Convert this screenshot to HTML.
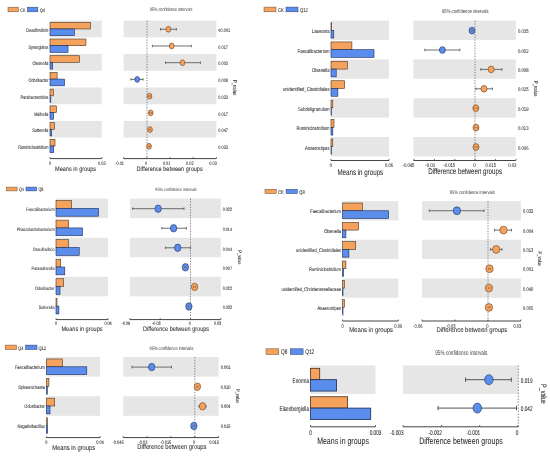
<!DOCTYPE html>
<html><head><meta charset="utf-8"><style>
html,body{margin:0;padding:0;background:#fff;}
svg{display:block;font-family:"Liberation Sans", sans-serif;filter:blur(0.3px);text-rendering:geometricPrecision;}
</style></head><body>
<svg width="550" height="458" viewBox="0 0 550 458">
<rect width="550" height="458" fill="#fff"/>
<rect x="8.00" y="7.20" width="10.30" height="4.60" fill="#F5A25D" stroke="#6b4a2a" stroke-width="0.5"/>
<text transform="translate(20.30 10.40) scale(1 1.3)" font-size="3.85" text-anchor="start" dominant-baseline="central" fill="#262626" stroke="#262626" stroke-width="0.040" >CK</text>
<rect x="27.50" y="7.20" width="10.30" height="4.60" fill="#5B8DEC" stroke="#2a3a6b" stroke-width="0.5"/>
<text transform="translate(39.80 10.40) scale(1 1.3)" font-size="3.85" text-anchor="start" dominant-baseline="central" fill="#262626" stroke="#262626" stroke-width="0.040" >Q4</text>
<rect x="50.00" y="20.60" width="51.80" height="16.72" fill="#E6E6E6"/>
<rect x="123.60" y="20.60" width="92.80" height="16.72" fill="#E6E6E6"/>
<rect x="50.00" y="22.27" width="40.40" height="6.69" fill="#F5A25D" stroke="#4a3420" stroke-width="0.6"/>
<rect x="50.00" y="28.96" width="24.40" height="6.69" fill="#5B8DEC" stroke="#1a2a5a" stroke-width="0.6"/>
<text transform="translate(48.50 30.66) scale(1 1.3)" font-size="3.85" text-anchor="end" dominant-baseline="central" fill="#262626" stroke="#262626" stroke-width="0.040" >Desulfovibrio</text>
<text transform="translate(218.30 30.66) scale(1 1.3)" font-size="3.85" text-anchor="start" dominant-baseline="central" fill="#262626" stroke="#262626" stroke-width="0.040" >&lt;0.001</text>
<rect x="50.00" y="38.99" width="35.90" height="6.69" fill="#F5A25D" stroke="#4a3420" stroke-width="0.6"/>
<rect x="50.00" y="45.68" width="18.00" height="6.69" fill="#5B8DEC" stroke="#1a2a5a" stroke-width="0.6"/>
<text transform="translate(48.50 47.38) scale(1 1.3)" font-size="3.85" text-anchor="end" dominant-baseline="central" fill="#262626" stroke="#262626" stroke-width="0.040" >Synergistes</text>
<text transform="translate(218.30 47.38) scale(1 1.3)" font-size="3.85" text-anchor="start" dominant-baseline="central" fill="#262626" stroke="#262626" stroke-width="0.040" >0.017</text>
<rect x="50.00" y="54.04" width="51.80" height="16.72" fill="#E6E6E6"/>
<rect x="123.60" y="54.04" width="92.80" height="16.72" fill="#E6E6E6"/>
<rect x="50.00" y="55.71" width="29.40" height="6.69" fill="#F5A25D" stroke="#4a3420" stroke-width="0.6"/>
<rect x="50.00" y="62.40" width="2.70" height="6.69" fill="#5B8DEC" stroke="#1a2a5a" stroke-width="0.6"/>
<text transform="translate(48.50 64.10) scale(1 1.3)" font-size="3.85" text-anchor="end" dominant-baseline="central" fill="#262626" stroke="#262626" stroke-width="0.040" >Olsenella</text>
<text transform="translate(218.30 64.10) scale(1 1.3)" font-size="3.85" text-anchor="start" dominant-baseline="central" fill="#262626" stroke="#262626" stroke-width="0.040" >0.003</text>
<rect x="50.00" y="72.43" width="7.10" height="6.69" fill="#F5A25D" stroke="#4a3420" stroke-width="0.6"/>
<rect x="50.00" y="79.12" width="14.50" height="6.69" fill="#5B8DEC" stroke="#1a2a5a" stroke-width="0.6"/>
<text transform="translate(48.50 80.82) scale(1 1.3)" font-size="3.85" text-anchor="end" dominant-baseline="central" fill="#262626" stroke="#262626" stroke-width="0.040" >Odoribacter</text>
<text transform="translate(218.30 80.82) scale(1 1.3)" font-size="3.85" text-anchor="start" dominant-baseline="central" fill="#262626" stroke="#262626" stroke-width="0.040" >0.008</text>
<rect x="50.00" y="87.48" width="51.80" height="16.72" fill="#E6E6E6"/>
<rect x="123.60" y="87.48" width="92.80" height="16.72" fill="#E6E6E6"/>
<rect x="50.00" y="89.15" width="3.30" height="6.69" fill="#F5A25D" stroke="#4a3420" stroke-width="0.6"/>
<rect x="50.00" y="95.84" width="0.80" height="6.69" fill="#5B8DEC" stroke="#1a2a5a" stroke-width="0.6"/>
<text transform="translate(48.50 97.54) scale(1 1.3)" font-size="3.85" text-anchor="end" dominant-baseline="central" fill="#262626" stroke="#262626" stroke-width="0.040" >Parabacteroides</text>
<text transform="translate(218.30 97.54) scale(1 1.3)" font-size="3.85" text-anchor="start" dominant-baseline="central" fill="#262626" stroke="#262626" stroke-width="0.040" >0.033</text>
<rect x="50.00" y="105.87" width="6.40" height="6.69" fill="#F5A25D" stroke="#4a3420" stroke-width="0.6"/>
<rect x="50.00" y="112.56" width="3.50" height="6.69" fill="#5B8DEC" stroke="#1a2a5a" stroke-width="0.6"/>
<text transform="translate(48.50 114.26) scale(1 1.3)" font-size="3.85" text-anchor="end" dominant-baseline="central" fill="#262626" stroke="#262626" stroke-width="0.040" >Malhella</text>
<text transform="translate(218.30 114.26) scale(1 1.3)" font-size="3.85" text-anchor="start" dominant-baseline="central" fill="#262626" stroke="#262626" stroke-width="0.040" >0.017</text>
<rect x="50.00" y="120.92" width="51.80" height="16.72" fill="#E6E6E6"/>
<rect x="123.60" y="120.92" width="92.80" height="16.72" fill="#E6E6E6"/>
<rect x="50.00" y="122.59" width="4.40" height="6.69" fill="#F5A25D" stroke="#4a3420" stroke-width="0.6"/>
<rect x="50.00" y="129.28" width="1.60" height="6.69" fill="#5B8DEC" stroke="#1a2a5a" stroke-width="0.6"/>
<text transform="translate(48.50 130.98) scale(1 1.3)" font-size="3.85" text-anchor="end" dominant-baseline="central" fill="#262626" stroke="#262626" stroke-width="0.040" >Sutterella</text>
<text transform="translate(218.30 130.98) scale(1 1.3)" font-size="3.85" text-anchor="start" dominant-baseline="central" fill="#262626" stroke="#262626" stroke-width="0.040" >0.047</text>
<rect x="50.00" y="139.31" width="5.00" height="6.69" fill="#F5A25D" stroke="#4a3420" stroke-width="0.6"/>
<rect x="50.00" y="146.00" width="3.70" height="6.69" fill="#5B8DEC" stroke="#1a2a5a" stroke-width="0.6"/>
<text transform="translate(48.50 147.70) scale(1 1.3)" font-size="3.85" text-anchor="end" dominant-baseline="central" fill="#262626" stroke="#262626" stroke-width="0.040" >Ruminiclostridium</text>
<text transform="translate(218.30 147.70) scale(1 1.3)" font-size="3.85" text-anchor="start" dominant-baseline="central" fill="#262626" stroke="#262626" stroke-width="0.040" >0.033</text>
<line x1="147.00" y1="20.60" x2="147.00" y2="158.60" stroke="#5a5a5a" stroke-width="0.7" stroke-dasharray="1.35 1.35"/>
<line x1="160.50" y1="29.26" x2="176.40" y2="29.26" stroke="#555555" stroke-width="0.85" />
<line x1="160.50" y1="28.06" x2="160.50" y2="30.46" stroke="#555555" stroke-width="0.85" />
<line x1="176.40" y1="28.06" x2="176.40" y2="30.46" stroke="#555555" stroke-width="0.85" />
<ellipse cx="168.40" cy="29.26" rx="2.40" ry="2.93" fill="#F5A25D" stroke="#6a4020" stroke-width="0.6"/>
<line x1="152.40" y1="45.98" x2="191.30" y2="45.98" stroke="#555555" stroke-width="0.85" />
<line x1="152.40" y1="44.78" x2="152.40" y2="47.18" stroke="#555555" stroke-width="0.85" />
<line x1="191.30" y1="44.78" x2="191.30" y2="47.18" stroke="#555555" stroke-width="0.85" />
<ellipse cx="171.70" cy="45.98" rx="2.40" ry="2.93" fill="#F5A25D" stroke="#6a4020" stroke-width="0.6"/>
<line x1="165.50" y1="62.70" x2="200.40" y2="62.70" stroke="#555555" stroke-width="0.85" />
<line x1="165.50" y1="61.50" x2="165.50" y2="63.90" stroke="#555555" stroke-width="0.85" />
<line x1="200.40" y1="61.50" x2="200.40" y2="63.90" stroke="#555555" stroke-width="0.85" />
<ellipse cx="182.50" cy="62.70" rx="2.40" ry="2.93" fill="#F5A25D" stroke="#6a4020" stroke-width="0.6"/>
<line x1="130.90" y1="79.42" x2="143.10" y2="79.42" stroke="#555555" stroke-width="0.85" />
<line x1="130.90" y1="78.22" x2="130.90" y2="80.62" stroke="#555555" stroke-width="0.85" />
<line x1="143.10" y1="78.22" x2="143.10" y2="80.62" stroke="#555555" stroke-width="0.85" />
<ellipse cx="137.20" cy="79.42" rx="2.40" ry="2.93" fill="#5B8DEC" stroke="#223060" stroke-width="0.6"/>
<ellipse cx="149.50" cy="96.14" rx="2.40" ry="2.93" fill="#F5A25D" stroke="#6a4020" stroke-width="0.6"/>
<line x1="148.50" y1="96.14" x2="150.50" y2="96.14" stroke="#8a6040" stroke-width="0.55" />
<line x1="148.50" y1="95.18" x2="148.50" y2="97.10" stroke="#8a6040" stroke-width="0.55" />
<line x1="150.50" y1="95.18" x2="150.50" y2="97.10" stroke="#8a6040" stroke-width="0.55" />
<ellipse cx="150.70" cy="112.86" rx="2.40" ry="2.93" fill="#F5A25D" stroke="#6a4020" stroke-width="0.6"/>
<line x1="149.50" y1="112.86" x2="152.00" y2="112.86" stroke="#8a6040" stroke-width="0.55" />
<line x1="149.50" y1="111.90" x2="149.50" y2="113.82" stroke="#8a6040" stroke-width="0.55" />
<line x1="152.00" y1="111.90" x2="152.00" y2="113.82" stroke="#8a6040" stroke-width="0.55" />
<ellipse cx="150.00" cy="129.58" rx="2.40" ry="2.93" fill="#F5A25D" stroke="#6a4020" stroke-width="0.6"/>
<line x1="149.00" y1="129.58" x2="151.00" y2="129.58" stroke="#8a6040" stroke-width="0.55" />
<line x1="149.00" y1="128.62" x2="149.00" y2="130.54" stroke="#8a6040" stroke-width="0.55" />
<line x1="151.00" y1="128.62" x2="151.00" y2="130.54" stroke="#8a6040" stroke-width="0.55" />
<ellipse cx="149.00" cy="146.30" rx="2.40" ry="2.93" fill="#F5A25D" stroke="#6a4020" stroke-width="0.6"/>
<line x1="148.00" y1="146.30" x2="150.00" y2="146.30" stroke="#8a6040" stroke-width="0.55" />
<line x1="148.00" y1="145.34" x2="148.00" y2="147.26" stroke="#8a6040" stroke-width="0.55" />
<line x1="150.00" y1="145.34" x2="150.00" y2="147.26" stroke="#8a6040" stroke-width="0.55" />
<line x1="50.00" y1="158.60" x2="101.80" y2="158.60" stroke="#444444" stroke-width="1" />
<line x1="50.00" y1="158.60" x2="50.00" y2="157.10" stroke="#444444" stroke-width="0.8" />
<line x1="101.80" y1="158.60" x2="101.80" y2="157.10" stroke="#444444" stroke-width="0.8" />
<text transform="translate(50.00 163.90) scale(1 1.3)" font-size="3.85" text-anchor="middle" dominant-baseline="central" fill="#262626" stroke="#262626" stroke-width="0.040" >0</text>
<text transform="translate(101.80 163.90) scale(1 1.3)" font-size="3.85" text-anchor="middle" dominant-baseline="central" fill="#262626" stroke="#262626" stroke-width="0.040" >0.03</text>
<line x1="123.60" y1="158.60" x2="216.40" y2="158.60" stroke="#444444" stroke-width="1" />
<line x1="123.60" y1="158.60" x2="123.60" y2="157.10" stroke="#444444" stroke-width="0.8" />
<text transform="translate(124.00 163.90) scale(1 1.3)" font-size="3.85" text-anchor="end" dominant-baseline="central" fill="#262626" stroke="#262626" stroke-width="0.040" >-0.01</text>
<line x1="146.80" y1="158.60" x2="146.80" y2="157.10" stroke="#444444" stroke-width="0.8" />
<text transform="translate(147.20 163.90) scale(1 1.3)" font-size="3.85" text-anchor="end" dominant-baseline="central" fill="#262626" stroke="#262626" stroke-width="0.040" >0</text>
<line x1="170.00" y1="158.60" x2="170.00" y2="157.10" stroke="#444444" stroke-width="0.8" />
<text transform="translate(170.40 163.90) scale(1 1.3)" font-size="3.85" text-anchor="end" dominant-baseline="central" fill="#262626" stroke="#262626" stroke-width="0.040" >0.01</text>
<line x1="193.20" y1="158.60" x2="193.20" y2="157.10" stroke="#444444" stroke-width="0.8" />
<text transform="translate(193.60 163.90) scale(1 1.3)" font-size="3.85" text-anchor="end" dominant-baseline="central" fill="#262626" stroke="#262626" stroke-width="0.040" >0.02</text>
<line x1="216.40" y1="158.60" x2="216.40" y2="157.10" stroke="#444444" stroke-width="0.8" />
<text transform="translate(216.80 163.90) scale(1 1.3)" font-size="3.85" text-anchor="end" dominant-baseline="central" fill="#262626" stroke="#262626" stroke-width="0.040" >0.03</text>
<text transform="translate(75.60 170.20) scale(1 1.19)" font-size="5.55" text-anchor="middle" dominant-baseline="central" fill="#2a2a2a" stroke="#2a2a2a" stroke-width="0.040" >Means in groups</text>
<text transform="translate(169.60 170.20) scale(1 1.19)" font-size="5.55" text-anchor="middle" dominant-baseline="central" fill="#2a2a2a" stroke="#2a2a2a" stroke-width="0.040" >Difference between groups</text>
<text transform="translate(171.00 10.10) scale(1 1.3)" font-size="3.85" text-anchor="middle" dominant-baseline="central" fill="#3a3a3a" >95% confidence intervals</text>
<text transform="translate(234.80 87.60) rotate(90) scale(1 1.3)" font-size="4.37" text-anchor="middle" dominant-baseline="central" fill="#262626" stroke="#262626" stroke-width="0.040" >P_value</text>
<rect x="264.00" y="7.10" width="12.00" height="4.70" fill="#F5A25D" stroke="#6b4a2a" stroke-width="0.5"/>
<text transform="translate(278.00 10.35) scale(1 1.3)" font-size="4.20" text-anchor="start" dominant-baseline="central" fill="#262626" stroke="#262626" stroke-width="0.040" >CK</text>
<rect x="286.00" y="7.10" width="12.00" height="4.70" fill="#5B8DEC" stroke="#2a3a6b" stroke-width="0.5"/>
<text transform="translate(300.00 10.35) scale(1 1.3)" font-size="4.20" text-anchor="start" dominant-baseline="central" fill="#262626" stroke="#262626" stroke-width="0.040" >Q12</text>
<rect x="331.00" y="20.60" width="58.00" height="19.40" fill="#E6E6E6"/>
<rect x="413.50" y="20.60" width="102.30" height="19.40" fill="#E6E6E6"/>
<rect x="331.00" y="22.54" width="0.70" height="7.76" fill="#F5A25D" stroke="#4a3420" stroke-width="0.6"/>
<rect x="331.00" y="30.30" width="2.80" height="7.76" fill="#5B8DEC" stroke="#1a2a5a" stroke-width="0.6"/>
<text transform="translate(329.50 31.30) scale(1 1.3)" font-size="4.20" text-anchor="end" dominant-baseline="central" fill="#262626" stroke="#262626" stroke-width="0.040" >Lawsonia</text>
<text transform="translate(518.00 31.30) scale(1 1.3)" font-size="4.20" text-anchor="start" dominant-baseline="central" fill="#262626" stroke="#262626" stroke-width="0.040" >0.035</text>
<rect x="331.00" y="41.94" width="20.90" height="7.76" fill="#F5A25D" stroke="#4a3420" stroke-width="0.6"/>
<rect x="331.00" y="49.70" width="43.00" height="7.76" fill="#5B8DEC" stroke="#1a2a5a" stroke-width="0.6"/>
<text transform="translate(329.50 50.70) scale(1 1.3)" font-size="4.20" text-anchor="end" dominant-baseline="central" fill="#262626" stroke="#262626" stroke-width="0.040" >Faecalibacterium</text>
<text transform="translate(518.00 50.70) scale(1 1.3)" font-size="4.20" text-anchor="start" dominant-baseline="central" fill="#262626" stroke="#262626" stroke-width="0.040" >0.002</text>
<rect x="331.00" y="59.40" width="58.00" height="19.40" fill="#E6E6E6"/>
<rect x="413.50" y="59.40" width="102.30" height="19.40" fill="#E6E6E6"/>
<rect x="331.00" y="61.34" width="16.50" height="7.76" fill="#F5A25D" stroke="#4a3420" stroke-width="0.6"/>
<rect x="331.00" y="69.10" width="5.20" height="7.76" fill="#5B8DEC" stroke="#1a2a5a" stroke-width="0.6"/>
<text transform="translate(329.50 70.10) scale(1 1.3)" font-size="4.20" text-anchor="end" dominant-baseline="central" fill="#262626" stroke="#262626" stroke-width="0.040" >Olsenella</text>
<text transform="translate(518.00 70.10) scale(1 1.3)" font-size="4.20" text-anchor="start" dominant-baseline="central" fill="#262626" stroke="#262626" stroke-width="0.040" >0.008</text>
<rect x="331.00" y="80.74" width="13.60" height="7.76" fill="#F5A25D" stroke="#4a3420" stroke-width="0.6"/>
<rect x="331.00" y="88.50" width="6.90" height="7.76" fill="#5B8DEC" stroke="#1a2a5a" stroke-width="0.6"/>
<text transform="translate(329.50 89.50) scale(1 1.3)" font-size="4.20" text-anchor="end" dominant-baseline="central" fill="#262626" stroke="#262626" stroke-width="0.040" >unidentified_Clostridiales</text>
<text transform="translate(518.00 89.50) scale(1 1.3)" font-size="4.20" text-anchor="start" dominant-baseline="central" fill="#262626" stroke="#262626" stroke-width="0.040" >0.025</text>
<rect x="331.00" y="98.20" width="58.00" height="19.40" fill="#E6E6E6"/>
<rect x="413.50" y="98.20" width="102.30" height="19.40" fill="#E6E6E6"/>
<rect x="331.00" y="100.14" width="1.80" height="7.76" fill="#F5A25D" stroke="#4a3420" stroke-width="0.6"/>
<rect x="331.00" y="107.90" width="0.50" height="7.76" fill="#5B8DEC" stroke="#1a2a5a" stroke-width="0.6"/>
<text transform="translate(329.50 108.90) scale(1 1.3)" font-size="4.20" text-anchor="end" dominant-baseline="central" fill="#262626" stroke="#262626" stroke-width="0.040" >Subdoligranulum</text>
<text transform="translate(518.00 108.90) scale(1 1.3)" font-size="4.20" text-anchor="start" dominant-baseline="central" fill="#262626" stroke="#262626" stroke-width="0.040" >0.019</text>
<rect x="331.00" y="119.54" width="3.00" height="7.76" fill="#F5A25D" stroke="#4a3420" stroke-width="0.6"/>
<rect x="331.00" y="127.30" width="1.80" height="7.76" fill="#5B8DEC" stroke="#1a2a5a" stroke-width="0.6"/>
<text transform="translate(329.50 128.30) scale(1 1.3)" font-size="4.20" text-anchor="end" dominant-baseline="central" fill="#262626" stroke="#262626" stroke-width="0.040" >Ruminiclostridium</text>
<text transform="translate(518.00 128.30) scale(1 1.3)" font-size="4.20" text-anchor="start" dominant-baseline="central" fill="#262626" stroke="#262626" stroke-width="0.040" >0.013</text>
<rect x="331.00" y="137.00" width="58.00" height="19.40" fill="#E6E6E6"/>
<rect x="413.50" y="137.00" width="102.30" height="19.40" fill="#E6E6E6"/>
<rect x="331.00" y="138.94" width="1.80" height="7.76" fill="#F5A25D" stroke="#4a3420" stroke-width="0.6"/>
<rect x="331.00" y="146.70" width="0.50" height="7.76" fill="#5B8DEC" stroke="#1a2a5a" stroke-width="0.6"/>
<text transform="translate(329.50 147.70) scale(1 1.3)" font-size="4.20" text-anchor="end" dominant-baseline="central" fill="#262626" stroke="#262626" stroke-width="0.040" >Anaerostipes</text>
<text transform="translate(518.00 147.70) scale(1 1.3)" font-size="4.20" text-anchor="start" dominant-baseline="central" fill="#262626" stroke="#262626" stroke-width="0.040" >0.006</text>
<line x1="475.00" y1="20.60" x2="475.00" y2="160.50" stroke="#5a5a5a" stroke-width="0.7" stroke-dasharray="1.35 1.35"/>
<ellipse cx="472.00" cy="30.60" rx="3.00" ry="3.36" fill="#5B8DEC" stroke="#223060" stroke-width="0.6"/>
<line x1="471.00" y1="30.60" x2="473.00" y2="30.60" stroke="#8a6040" stroke-width="0.55" />
<line x1="471.00" y1="29.56" x2="471.00" y2="31.64" stroke="#8a6040" stroke-width="0.55" />
<line x1="473.00" y1="29.56" x2="473.00" y2="31.64" stroke="#8a6040" stroke-width="0.55" />
<line x1="424.90" y1="50.00" x2="459.80" y2="50.00" stroke="#555555" stroke-width="0.85" />
<line x1="424.90" y1="48.70" x2="424.90" y2="51.30" stroke="#555555" stroke-width="0.85" />
<line x1="459.80" y1="48.70" x2="459.80" y2="51.30" stroke="#555555" stroke-width="0.85" />
<ellipse cx="442.40" cy="50.00" rx="3.00" ry="3.36" fill="#5B8DEC" stroke="#223060" stroke-width="0.6"/>
<line x1="480.80" y1="69.40" x2="502.00" y2="69.40" stroke="#555555" stroke-width="0.85" />
<line x1="480.80" y1="68.10" x2="480.80" y2="70.70" stroke="#555555" stroke-width="0.85" />
<line x1="502.00" y1="68.10" x2="502.00" y2="70.70" stroke="#555555" stroke-width="0.85" />
<ellipse cx="491.20" cy="69.40" rx="3.00" ry="3.36" fill="#F5A25D" stroke="#6a4020" stroke-width="0.6"/>
<line x1="475.80" y1="88.80" x2="492.40" y2="88.80" stroke="#555555" stroke-width="0.85" />
<line x1="475.80" y1="87.50" x2="475.80" y2="90.10" stroke="#555555" stroke-width="0.85" />
<line x1="492.40" y1="87.50" x2="492.40" y2="90.10" stroke="#555555" stroke-width="0.85" />
<ellipse cx="484.00" cy="88.80" rx="3.00" ry="3.36" fill="#F5A25D" stroke="#6a4020" stroke-width="0.6"/>
<ellipse cx="475.80" cy="108.20" rx="3.00" ry="3.36" fill="#F5A25D" stroke="#6a4020" stroke-width="0.6"/>
<line x1="474.20" y1="108.20" x2="477.60" y2="108.20" stroke="#8a6040" stroke-width="0.55" />
<line x1="474.20" y1="107.16" x2="474.20" y2="109.24" stroke="#8a6040" stroke-width="0.55" />
<line x1="477.60" y1="107.16" x2="477.60" y2="109.24" stroke="#8a6040" stroke-width="0.55" />
<ellipse cx="476.00" cy="127.60" rx="3.00" ry="3.36" fill="#F5A25D" stroke="#6a4020" stroke-width="0.6"/>
<line x1="474.40" y1="127.60" x2="477.80" y2="127.60" stroke="#8a6040" stroke-width="0.55" />
<line x1="474.40" y1="126.56" x2="474.40" y2="128.64" stroke="#8a6040" stroke-width="0.55" />
<line x1="477.80" y1="126.56" x2="477.80" y2="128.64" stroke="#8a6040" stroke-width="0.55" />
<ellipse cx="476.00" cy="147.00" rx="3.00" ry="3.36" fill="#F5A25D" stroke="#6a4020" stroke-width="0.6"/>
<line x1="474.40" y1="147.00" x2="477.80" y2="147.00" stroke="#8a6040" stroke-width="0.55" />
<line x1="474.40" y1="145.96" x2="474.40" y2="148.04" stroke="#8a6040" stroke-width="0.55" />
<line x1="477.80" y1="145.96" x2="477.80" y2="148.04" stroke="#8a6040" stroke-width="0.55" />
<line x1="331.00" y1="160.50" x2="389.00" y2="160.50" stroke="#444444" stroke-width="1" />
<line x1="331.00" y1="160.50" x2="331.00" y2="158.90" stroke="#444444" stroke-width="0.8" />
<line x1="389.00" y1="160.50" x2="389.00" y2="158.90" stroke="#444444" stroke-width="0.8" />
<text transform="translate(331.00 164.90) scale(1 1.3)" font-size="4.20" text-anchor="middle" dominant-baseline="central" fill="#262626" stroke="#262626" stroke-width="0.040" >0</text>
<text transform="translate(389.00 164.90) scale(1 1.3)" font-size="4.20" text-anchor="middle" dominant-baseline="central" fill="#262626" stroke="#262626" stroke-width="0.040" >0.06</text>
<line x1="413.50" y1="160.50" x2="515.80" y2="160.50" stroke="#444444" stroke-width="1" />
<line x1="414.00" y1="160.50" x2="414.00" y2="158.90" stroke="#444444" stroke-width="0.8" />
<text transform="translate(414.40 164.90) scale(1 1.3)" font-size="4.20" text-anchor="end" dominant-baseline="central" fill="#262626" stroke="#262626" stroke-width="0.040" >-0.045</text>
<line x1="434.40" y1="160.50" x2="434.40" y2="158.90" stroke="#444444" stroke-width="0.8" />
<text transform="translate(434.80 164.90) scale(1 1.3)" font-size="4.20" text-anchor="end" dominant-baseline="central" fill="#262626" stroke="#262626" stroke-width="0.040" >-0.03</text>
<line x1="454.80" y1="160.50" x2="454.80" y2="158.90" stroke="#444444" stroke-width="0.8" />
<text transform="translate(455.20 164.90) scale(1 1.3)" font-size="4.20" text-anchor="end" dominant-baseline="central" fill="#262626" stroke="#262626" stroke-width="0.040" >-0.015</text>
<line x1="475.20" y1="160.50" x2="475.20" y2="158.90" stroke="#444444" stroke-width="0.8" />
<text transform="translate(475.60 164.90) scale(1 1.3)" font-size="4.20" text-anchor="end" dominant-baseline="central" fill="#262626" stroke="#262626" stroke-width="0.040" >0</text>
<line x1="495.60" y1="160.50" x2="495.60" y2="158.90" stroke="#444444" stroke-width="0.8" />
<text transform="translate(496.00 164.90) scale(1 1.3)" font-size="4.20" text-anchor="end" dominant-baseline="central" fill="#262626" stroke="#262626" stroke-width="0.040" >0.015</text>
<line x1="516.00" y1="160.50" x2="516.00" y2="158.90" stroke="#444444" stroke-width="0.8" />
<text transform="translate(516.40 164.90) scale(1 1.3)" font-size="4.20" text-anchor="end" dominant-baseline="central" fill="#262626" stroke="#262626" stroke-width="0.040" >0.03</text>
<text transform="translate(360.30 172.80) scale(1 1.35)" font-size="6.20" text-anchor="middle" dominant-baseline="central" fill="#2a2a2a" stroke="#2a2a2a" stroke-width="0.040" >Means in groups</text>
<text transform="translate(465.10 172.40) scale(1 1.35)" font-size="6.20" text-anchor="middle" dominant-baseline="central" fill="#2a2a2a" stroke="#2a2a2a" stroke-width="0.040" >Difference between groups</text>
<text transform="translate(465.30 10.60) scale(1 1.3)" font-size="4.20" text-anchor="middle" dominant-baseline="central" fill="#3a3a3a" >95% confidence intervals</text>
<text transform="translate(536.40 88.60) rotate(90) scale(1 1.3)" font-size="4.34" text-anchor="middle" dominant-baseline="central" fill="#262626" stroke="#262626" stroke-width="0.040" >P_value</text>
<rect x="6.50" y="187.10" width="10.60" height="3.80" fill="#F5A25D" stroke="#6b4a2a" stroke-width="0.5"/>
<text transform="translate(18.90 189.90) scale(1 1.3)" font-size="3.72" text-anchor="start" dominant-baseline="central" fill="#262626" stroke="#262626" stroke-width="0.040" >Q4</text>
<rect x="26.00" y="187.10" width="10.60" height="3.80" fill="#5B8DEC" stroke="#2a3a6b" stroke-width="0.5"/>
<text transform="translate(38.40 189.90) scale(1 1.3)" font-size="3.72" text-anchor="start" dominant-baseline="central" fill="#262626" stroke="#262626" stroke-width="0.040" >Q8</text>
<rect x="56.00" y="198.60" width="52.00" height="19.55" fill="#E6E6E6"/>
<rect x="130.00" y="198.60" width="90.80" height="19.55" fill="#E6E6E6"/>
<rect x="56.00" y="200.56" width="15.60" height="7.82" fill="#F5A25D" stroke="#4a3420" stroke-width="0.6"/>
<rect x="56.00" y="208.38" width="42.60" height="7.82" fill="#5B8DEC" stroke="#1a2a5a" stroke-width="0.6"/>
<text transform="translate(54.50 210.18) scale(1 1.3)" font-size="3.72" text-anchor="end" dominant-baseline="central" fill="#262626" stroke="#262626" stroke-width="0.040" >Faecalibacterium</text>
<text transform="translate(222.70 210.18) scale(1 1.3)" font-size="3.72" text-anchor="start" dominant-baseline="central" fill="#262626" stroke="#262626" stroke-width="0.040" >0.022</text>
<rect x="56.00" y="220.11" width="12.60" height="7.82" fill="#F5A25D" stroke="#4a3420" stroke-width="0.6"/>
<rect x="56.00" y="227.93" width="26.40" height="7.82" fill="#5B8DEC" stroke="#1a2a5a" stroke-width="0.6"/>
<text transform="translate(54.50 229.73) scale(1 1.3)" font-size="3.72" text-anchor="end" dominant-baseline="central" fill="#262626" stroke="#262626" stroke-width="0.040" >Phascolarctobacterium</text>
<text transform="translate(222.70 229.73) scale(1 1.3)" font-size="3.72" text-anchor="start" dominant-baseline="central" fill="#262626" stroke="#262626" stroke-width="0.040" >0.014</text>
<rect x="56.00" y="237.70" width="52.00" height="19.55" fill="#E6E6E6"/>
<rect x="130.00" y="237.70" width="90.80" height="19.55" fill="#E6E6E6"/>
<rect x="56.00" y="239.66" width="12.60" height="7.82" fill="#F5A25D" stroke="#4a3420" stroke-width="0.6"/>
<rect x="56.00" y="247.47" width="23.20" height="7.82" fill="#5B8DEC" stroke="#1a2a5a" stroke-width="0.6"/>
<text transform="translate(54.50 249.28) scale(1 1.3)" font-size="3.72" text-anchor="end" dominant-baseline="central" fill="#262626" stroke="#262626" stroke-width="0.040" >Desulfovibrio</text>
<text transform="translate(222.70 249.28) scale(1 1.3)" font-size="3.72" text-anchor="start" dominant-baseline="central" fill="#262626" stroke="#262626" stroke-width="0.040" >0.044</text>
<rect x="56.00" y="259.20" width="4.70" height="7.82" fill="#F5A25D" stroke="#4a3420" stroke-width="0.6"/>
<rect x="56.00" y="267.02" width="8.80" height="7.82" fill="#5B8DEC" stroke="#1a2a5a" stroke-width="0.6"/>
<text transform="translate(54.50 268.82) scale(1 1.3)" font-size="3.72" text-anchor="end" dominant-baseline="central" fill="#262626" stroke="#262626" stroke-width="0.040" >Parasutterella</text>
<text transform="translate(222.70 268.82) scale(1 1.3)" font-size="3.72" text-anchor="start" dominant-baseline="central" fill="#262626" stroke="#262626" stroke-width="0.040" >0.007</text>
<rect x="56.00" y="276.80" width="52.00" height="19.55" fill="#E6E6E6"/>
<rect x="130.00" y="276.80" width="90.80" height="19.55" fill="#E6E6E6"/>
<rect x="56.00" y="278.75" width="7.70" height="7.82" fill="#F5A25D" stroke="#4a3420" stroke-width="0.6"/>
<rect x="56.00" y="286.57" width="4.00" height="7.82" fill="#5B8DEC" stroke="#1a2a5a" stroke-width="0.6"/>
<text transform="translate(54.50 288.38) scale(1 1.3)" font-size="3.72" text-anchor="end" dominant-baseline="central" fill="#262626" stroke="#262626" stroke-width="0.040" >Odoribacter</text>
<text transform="translate(222.70 288.38) scale(1 1.3)" font-size="3.72" text-anchor="start" dominant-baseline="central" fill="#262626" stroke="#262626" stroke-width="0.040" >0.022</text>
<rect x="56.00" y="298.31" width="1.00" height="7.82" fill="#F5A25D" stroke="#4a3420" stroke-width="0.6"/>
<rect x="56.00" y="306.12" width="2.90" height="7.82" fill="#5B8DEC" stroke="#1a2a5a" stroke-width="0.6"/>
<text transform="translate(54.50 307.93) scale(1 1.3)" font-size="3.72" text-anchor="end" dominant-baseline="central" fill="#262626" stroke="#262626" stroke-width="0.040" >Sutterella</text>
<text transform="translate(222.70 307.93) scale(1 1.3)" font-size="3.72" text-anchor="start" dominant-baseline="central" fill="#262626" stroke="#262626" stroke-width="0.040" >0.032</text>
<line x1="190.50" y1="198.60" x2="190.50" y2="319.60" stroke="#5a5a5a" stroke-width="0.7" stroke-dasharray="1.35 1.35"/>
<line x1="132.70" y1="208.68" x2="184.00" y2="208.68" stroke="#555555" stroke-width="0.85" />
<line x1="132.70" y1="207.38" x2="132.70" y2="209.98" stroke="#555555" stroke-width="0.85" />
<line x1="184.00" y1="207.38" x2="184.00" y2="209.98" stroke="#555555" stroke-width="0.85" />
<ellipse cx="158.10" cy="208.68" rx="3.20" ry="3.74" fill="#5B8DEC" stroke="#223060" stroke-width="0.6"/>
<line x1="161.90" y1="228.23" x2="186.40" y2="228.23" stroke="#555555" stroke-width="0.85" />
<line x1="161.90" y1="226.93" x2="161.90" y2="229.53" stroke="#555555" stroke-width="0.85" />
<line x1="186.40" y1="226.93" x2="186.40" y2="229.53" stroke="#555555" stroke-width="0.85" />
<ellipse cx="173.60" cy="228.23" rx="3.20" ry="3.74" fill="#5B8DEC" stroke="#223060" stroke-width="0.6"/>
<line x1="165.40" y1="247.78" x2="190.50" y2="247.78" stroke="#555555" stroke-width="0.85" />
<line x1="165.40" y1="246.47" x2="165.40" y2="249.08" stroke="#555555" stroke-width="0.85" />
<line x1="190.50" y1="246.47" x2="190.50" y2="249.08" stroke="#555555" stroke-width="0.85" />
<ellipse cx="177.70" cy="247.78" rx="3.20" ry="3.74" fill="#5B8DEC" stroke="#223060" stroke-width="0.6"/>
<ellipse cx="185.40" cy="267.32" rx="3.20" ry="3.74" fill="#5B8DEC" stroke="#223060" stroke-width="0.6"/>
<line x1="184.50" y1="267.32" x2="186.30" y2="267.32" stroke="#8a6040" stroke-width="0.55" />
<line x1="184.50" y1="266.28" x2="184.50" y2="268.37" stroke="#8a6040" stroke-width="0.55" />
<line x1="186.30" y1="266.28" x2="186.30" y2="268.37" stroke="#8a6040" stroke-width="0.55" />
<ellipse cx="194.60" cy="286.88" rx="3.20" ry="3.74" fill="#F5A25D" stroke="#6a4020" stroke-width="0.6"/>
<line x1="193.60" y1="286.88" x2="195.60" y2="286.88" stroke="#8a6040" stroke-width="0.55" />
<line x1="193.60" y1="285.83" x2="193.60" y2="287.92" stroke="#8a6040" stroke-width="0.55" />
<line x1="195.60" y1="285.83" x2="195.60" y2="287.92" stroke="#8a6040" stroke-width="0.55" />
<ellipse cx="188.90" cy="306.43" rx="3.20" ry="3.74" fill="#5B8DEC" stroke="#223060" stroke-width="0.6"/>
<line x1="188.00" y1="306.43" x2="189.80" y2="306.43" stroke="#8a6040" stroke-width="0.55" />
<line x1="188.00" y1="305.38" x2="188.00" y2="307.47" stroke="#8a6040" stroke-width="0.55" />
<line x1="189.80" y1="305.38" x2="189.80" y2="307.47" stroke="#8a6040" stroke-width="0.55" />
<line x1="56.00" y1="319.60" x2="108.00" y2="319.60" stroke="#444444" stroke-width="1" />
<line x1="56.00" y1="319.60" x2="56.00" y2="318.10" stroke="#444444" stroke-width="0.8" />
<line x1="108.00" y1="319.60" x2="108.00" y2="318.10" stroke="#444444" stroke-width="0.8" />
<text transform="translate(56.00 323.60) scale(1 1.3)" font-size="3.72" text-anchor="middle" dominant-baseline="central" fill="#262626" stroke="#262626" stroke-width="0.040" >0</text>
<text transform="translate(108.00 323.60) scale(1 1.3)" font-size="3.72" text-anchor="middle" dominant-baseline="central" fill="#262626" stroke="#262626" stroke-width="0.040" >0.06</text>
<line x1="130.00" y1="319.60" x2="220.80" y2="319.60" stroke="#444444" stroke-width="1" />
<line x1="129.80" y1="319.60" x2="129.80" y2="318.10" stroke="#444444" stroke-width="0.8" />
<text transform="translate(130.20 323.60) scale(1 1.3)" font-size="3.72" text-anchor="end" dominant-baseline="central" fill="#262626" stroke="#262626" stroke-width="0.040" >-0.06</text>
<line x1="160.20" y1="319.60" x2="160.20" y2="318.10" stroke="#444444" stroke-width="0.8" />
<text transform="translate(160.60 323.60) scale(1 1.3)" font-size="3.72" text-anchor="end" dominant-baseline="central" fill="#262626" stroke="#262626" stroke-width="0.040" >-0.03</text>
<line x1="190.50" y1="319.60" x2="190.50" y2="318.10" stroke="#444444" stroke-width="0.8" />
<text transform="translate(190.90 323.60) scale(1 1.3)" font-size="3.72" text-anchor="end" dominant-baseline="central" fill="#262626" stroke="#262626" stroke-width="0.040" >0</text>
<line x1="220.80" y1="319.60" x2="220.80" y2="318.10" stroke="#444444" stroke-width="0.8" />
<text transform="translate(221.20 323.60) scale(1 1.3)" font-size="3.72" text-anchor="end" dominant-baseline="central" fill="#262626" stroke="#262626" stroke-width="0.040" >0.03</text>
<text transform="translate(82.00 329.80) scale(1 1.2)" font-size="5.55" text-anchor="middle" dominant-baseline="central" fill="#2a2a2a" stroke="#2a2a2a" stroke-width="0.040" >Means in groups</text>
<text transform="translate(176.00 329.80) scale(1 1.2)" font-size="5.55" text-anchor="middle" dominant-baseline="central" fill="#2a2a2a" stroke="#2a2a2a" stroke-width="0.040" >Difference between groups</text>
<text transform="translate(176.00 189.60) scale(1 1.3)" font-size="3.72" text-anchor="middle" dominant-baseline="central" fill="#3a3a3a" >95% confidence intervals</text>
<text transform="translate(239.80 257.40) rotate(90) scale(1 1.3)" font-size="3.90" text-anchor="middle" dominant-baseline="central" fill="#262626" stroke="#262626" stroke-width="0.040" >P_value</text>
<rect x="265.00" y="189.30" width="11.20" height="4.30" fill="#F5A25D" stroke="#6b4a2a" stroke-width="0.5"/>
<text transform="translate(278.20 192.35) scale(1 1.3)" font-size="4.05" text-anchor="start" dominant-baseline="central" fill="#262626" stroke="#262626" stroke-width="0.040" >CK</text>
<rect x="286.10" y="189.30" width="11.20" height="4.30" fill="#5B8DEC" stroke="#2a3a6b" stroke-width="0.5"/>
<text transform="translate(299.30 192.35) scale(1 1.3)" font-size="4.05" text-anchor="start" dominant-baseline="central" fill="#262626" stroke="#262626" stroke-width="0.040" >Q8</text>
<rect x="342.50" y="201.10" width="55.80" height="19.33" fill="#E6E6E6"/>
<rect x="422.00" y="201.10" width="98.90" height="19.33" fill="#E6E6E6"/>
<rect x="342.50" y="203.03" width="20.00" height="7.73" fill="#F5A25D" stroke="#4a3420" stroke-width="0.6"/>
<rect x="342.50" y="210.76" width="46.10" height="7.73" fill="#5B8DEC" stroke="#1a2a5a" stroke-width="0.6"/>
<text transform="translate(341.00 211.26) scale(1 1.3)" font-size="4.05" text-anchor="end" dominant-baseline="central" fill="#262626" stroke="#262626" stroke-width="0.040" >Faecalibacterium</text>
<text transform="translate(523.00 211.26) scale(1 1.3)" font-size="4.05" text-anchor="start" dominant-baseline="central" fill="#262626" stroke="#262626" stroke-width="0.040" >0.032</text>
<rect x="342.50" y="222.36" width="16.10" height="7.73" fill="#F5A25D" stroke="#4a3420" stroke-width="0.6"/>
<rect x="342.50" y="230.09" width="3.40" height="7.73" fill="#5B8DEC" stroke="#1a2a5a" stroke-width="0.6"/>
<text transform="translate(341.00 230.59) scale(1 1.3)" font-size="4.05" text-anchor="end" dominant-baseline="central" fill="#262626" stroke="#262626" stroke-width="0.040" >Olsenella</text>
<text transform="translate(523.00 230.59) scale(1 1.3)" font-size="4.05" text-anchor="start" dominant-baseline="central" fill="#262626" stroke="#262626" stroke-width="0.040" >0.004</text>
<rect x="342.50" y="239.76" width="55.80" height="19.33" fill="#E6E6E6"/>
<rect x="422.00" y="239.76" width="98.90" height="19.33" fill="#E6E6E6"/>
<rect x="342.50" y="241.69" width="13.20" height="7.73" fill="#F5A25D" stroke="#4a3420" stroke-width="0.6"/>
<rect x="342.50" y="249.42" width="6.40" height="7.73" fill="#5B8DEC" stroke="#1a2a5a" stroke-width="0.6"/>
<text transform="translate(341.00 249.92) scale(1 1.3)" font-size="4.05" text-anchor="end" dominant-baseline="central" fill="#262626" stroke="#262626" stroke-width="0.040" >unidentified_Clostridiales</text>
<text transform="translate(523.00 249.92) scale(1 1.3)" font-size="4.05" text-anchor="start" dominant-baseline="central" fill="#262626" stroke="#262626" stroke-width="0.040" >0.013</text>
<rect x="342.50" y="261.02" width="3.40" height="7.73" fill="#F5A25D" stroke="#4a3420" stroke-width="0.6"/>
<rect x="342.50" y="268.75" width="1.10" height="7.73" fill="#5B8DEC" stroke="#1a2a5a" stroke-width="0.6"/>
<text transform="translate(341.00 269.25) scale(1 1.3)" font-size="4.05" text-anchor="end" dominant-baseline="central" fill="#262626" stroke="#262626" stroke-width="0.040" >Ruminiclostridium</text>
<text transform="translate(523.00 269.25) scale(1 1.3)" font-size="4.05" text-anchor="start" dominant-baseline="central" fill="#262626" stroke="#262626" stroke-width="0.040" >0.001</text>
<rect x="342.50" y="278.42" width="55.80" height="19.33" fill="#E6E6E6"/>
<rect x="422.00" y="278.42" width="98.90" height="19.33" fill="#E6E6E6"/>
<rect x="342.50" y="280.35" width="1.80" height="7.73" fill="#F5A25D" stroke="#4a3420" stroke-width="0.6"/>
<rect x="342.50" y="288.08" width="0.50" height="7.73" fill="#5B8DEC" stroke="#1a2a5a" stroke-width="0.6"/>
<text transform="translate(341.00 288.58) scale(1 1.3)" font-size="4.05" text-anchor="end" dominant-baseline="central" fill="#262626" stroke="#262626" stroke-width="0.040" >unidentified_Christensenellaceae</text>
<text transform="translate(523.00 288.58) scale(1 1.3)" font-size="4.05" text-anchor="start" dominant-baseline="central" fill="#262626" stroke="#262626" stroke-width="0.040" >0.040</text>
<rect x="342.50" y="299.68" width="1.80" height="7.73" fill="#F5A25D" stroke="#4a3420" stroke-width="0.6"/>
<rect x="342.50" y="307.42" width="0.50" height="7.73" fill="#5B8DEC" stroke="#1a2a5a" stroke-width="0.6"/>
<text transform="translate(341.00 307.92) scale(1 1.3)" font-size="4.05" text-anchor="end" dominant-baseline="central" fill="#262626" stroke="#262626" stroke-width="0.040" >Anaerostipes</text>
<text transform="translate(523.00 307.92) scale(1 1.3)" font-size="4.05" text-anchor="start" dominant-baseline="central" fill="#262626" stroke="#262626" stroke-width="0.040" >0.005</text>
<line x1="488.00" y1="201.10" x2="488.00" y2="321.00" stroke="#5a5a5a" stroke-width="0.7" stroke-dasharray="1.35 1.35"/>
<line x1="429.30" y1="210.76" x2="484.00" y2="210.76" stroke="#555555" stroke-width="0.85" />
<line x1="429.30" y1="209.46" x2="429.30" y2="212.06" stroke="#555555" stroke-width="0.85" />
<line x1="484.00" y1="209.46" x2="484.00" y2="212.06" stroke="#555555" stroke-width="0.85" />
<ellipse cx="456.90" cy="210.76" rx="3.70" ry="3.89" fill="#5B8DEC" stroke="#223060" stroke-width="0.6"/>
<line x1="494.50" y1="230.09" x2="511.50" y2="230.09" stroke="#555555" stroke-width="0.85" />
<line x1="494.50" y1="228.79" x2="494.50" y2="231.40" stroke="#555555" stroke-width="0.85" />
<line x1="511.50" y1="228.79" x2="511.50" y2="231.40" stroke="#555555" stroke-width="0.85" />
<ellipse cx="503.50" cy="230.09" rx="3.70" ry="3.89" fill="#F5A25D" stroke="#6a4020" stroke-width="0.6"/>
<line x1="490.40" y1="249.42" x2="502.00" y2="249.42" stroke="#555555" stroke-width="0.85" />
<line x1="490.40" y1="248.12" x2="490.40" y2="250.72" stroke="#555555" stroke-width="0.85" />
<line x1="502.00" y1="248.12" x2="502.00" y2="250.72" stroke="#555555" stroke-width="0.85" />
<ellipse cx="496.20" cy="249.42" rx="3.70" ry="3.89" fill="#F5A25D" stroke="#6a4020" stroke-width="0.6"/>
<ellipse cx="489.50" cy="268.75" rx="3.70" ry="3.89" fill="#F5A25D" stroke="#6a4020" stroke-width="0.6"/>
<line x1="488.50" y1="268.75" x2="490.50" y2="268.75" stroke="#8a6040" stroke-width="0.55" />
<line x1="488.50" y1="267.71" x2="488.50" y2="269.80" stroke="#8a6040" stroke-width="0.55" />
<line x1="490.50" y1="267.71" x2="490.50" y2="269.80" stroke="#8a6040" stroke-width="0.55" />
<ellipse cx="488.90" cy="288.08" rx="3.70" ry="3.89" fill="#F5A25D" stroke="#6a4020" stroke-width="0.6"/>
<line x1="488.00" y1="288.08" x2="490.00" y2="288.08" stroke="#8a6040" stroke-width="0.55" />
<line x1="488.00" y1="287.04" x2="488.00" y2="289.12" stroke="#8a6040" stroke-width="0.55" />
<line x1="490.00" y1="287.04" x2="490.00" y2="289.12" stroke="#8a6040" stroke-width="0.55" />
<ellipse cx="488.90" cy="307.42" rx="3.70" ry="3.89" fill="#F5A25D" stroke="#6a4020" stroke-width="0.6"/>
<line x1="488.00" y1="307.42" x2="490.00" y2="307.42" stroke="#8a6040" stroke-width="0.55" />
<line x1="488.00" y1="306.38" x2="488.00" y2="308.46" stroke="#8a6040" stroke-width="0.55" />
<line x1="490.00" y1="306.38" x2="490.00" y2="308.46" stroke="#8a6040" stroke-width="0.55" />
<line x1="342.50" y1="321.00" x2="398.30" y2="321.00" stroke="#444444" stroke-width="1" />
<line x1="342.50" y1="321.00" x2="342.50" y2="319.50" stroke="#444444" stroke-width="0.8" />
<line x1="398.30" y1="321.00" x2="398.30" y2="319.50" stroke="#444444" stroke-width="0.8" />
<text transform="translate(342.50 325.70) scale(1 1.3)" font-size="4.05" text-anchor="middle" dominant-baseline="central" fill="#262626" stroke="#262626" stroke-width="0.040" >0</text>
<text transform="translate(398.30 325.70) scale(1 1.3)" font-size="4.05" text-anchor="middle" dominant-baseline="central" fill="#262626" stroke="#262626" stroke-width="0.040" >0.06</text>
<line x1="422.00" y1="321.00" x2="520.90" y2="321.00" stroke="#444444" stroke-width="1" />
<line x1="422.00" y1="321.00" x2="422.00" y2="319.50" stroke="#444444" stroke-width="0.8" />
<text transform="translate(422.40 325.70) scale(1 1.3)" font-size="4.05" text-anchor="end" dominant-baseline="central" fill="#262626" stroke="#262626" stroke-width="0.040" >-0.06</text>
<line x1="455.00" y1="321.00" x2="455.00" y2="319.50" stroke="#444444" stroke-width="0.8" />
<text transform="translate(455.40 325.70) scale(1 1.3)" font-size="4.05" text-anchor="end" dominant-baseline="central" fill="#262626" stroke="#262626" stroke-width="0.040" >-0.03</text>
<line x1="488.00" y1="321.00" x2="488.00" y2="319.50" stroke="#444444" stroke-width="0.8" />
<text transform="translate(488.40 325.70) scale(1 1.3)" font-size="4.05" text-anchor="end" dominant-baseline="central" fill="#262626" stroke="#262626" stroke-width="0.040" >0</text>
<line x1="520.90" y1="321.00" x2="520.90" y2="319.50" stroke="#444444" stroke-width="0.8" />
<text transform="translate(521.30 325.70) scale(1 1.3)" font-size="4.05" text-anchor="end" dominant-baseline="central" fill="#262626" stroke="#262626" stroke-width="0.040" >0.03</text>
<text transform="translate(371.10 330.90) scale(1 1.14)" font-size="5.95" text-anchor="middle" dominant-baseline="central" fill="#2a2a2a" stroke="#2a2a2a" stroke-width="0.040" >Means in groups</text>
<text transform="translate(471.90 330.90) scale(1 1.14)" font-size="5.95" text-anchor="middle" dominant-baseline="central" fill="#2a2a2a" stroke="#2a2a2a" stroke-width="0.040" >Difference between groups</text>
<text transform="translate(472.20 192.00) scale(1 1.3)" font-size="4.05" text-anchor="middle" dominant-baseline="central" fill="#3a3a3a" >95% confidence intervals</text>
<text transform="translate(540.40 258.80) rotate(90) scale(1 1.3)" font-size="4.01" text-anchor="middle" dominant-baseline="central" fill="#262626" stroke="#262626" stroke-width="0.040" >P_value</text>
<rect x="5.20" y="345.10" width="11.40" height="4.40" fill="#F5A25D" stroke="#6b4a2a" stroke-width="0.5"/>
<text transform="translate(18.10 348.20) scale(1 1.3)" font-size="3.95" text-anchor="start" dominant-baseline="central" fill="#262626" stroke="#262626" stroke-width="0.040" >Q4</text>
<rect x="25.60" y="345.10" width="11.40" height="4.40" fill="#5B8DEC" stroke="#2a3a6b" stroke-width="0.5"/>
<text transform="translate(38.50 348.20) scale(1 1.3)" font-size="3.95" text-anchor="start" dominant-baseline="central" fill="#262626" stroke="#262626" stroke-width="0.040" >Q12</text>
<rect x="46.40" y="357.00" width="53.70" height="19.60" fill="#E6E6E6"/>
<rect x="123.20" y="357.00" width="95.40" height="19.60" fill="#E6E6E6"/>
<rect x="46.40" y="358.96" width="16.10" height="7.84" fill="#F5A25D" stroke="#4a3420" stroke-width="0.6"/>
<rect x="46.40" y="366.80" width="40.40" height="7.84" fill="#5B8DEC" stroke="#1a2a5a" stroke-width="0.6"/>
<text transform="translate(44.90 367.10) scale(1 1.3)" font-size="3.95" text-anchor="end" dominant-baseline="central" fill="#262626" stroke="#262626" stroke-width="0.040" >Faecalibacterium</text>
<text transform="translate(220.70 367.10) scale(1 1.3)" font-size="3.95" text-anchor="start" dominant-baseline="central" fill="#262626" stroke="#262626" stroke-width="0.040" >0.001</text>
<rect x="46.40" y="378.56" width="2.50" height="7.84" fill="#F5A25D" stroke="#4a3420" stroke-width="0.6"/>
<rect x="46.40" y="386.40" width="0.90" height="7.84" fill="#5B8DEC" stroke="#1a2a5a" stroke-width="0.6"/>
<text transform="translate(44.90 386.70) scale(1 1.3)" font-size="3.95" text-anchor="end" dominant-baseline="central" fill="#262626" stroke="#262626" stroke-width="0.040" >Sphaerochaeta</text>
<text transform="translate(220.70 386.70) scale(1 1.3)" font-size="3.95" text-anchor="start" dominant-baseline="central" fill="#262626" stroke="#262626" stroke-width="0.040" >0.020</text>
<rect x="46.40" y="396.20" width="53.70" height="19.60" fill="#E6E6E6"/>
<rect x="123.20" y="396.20" width="95.40" height="19.60" fill="#E6E6E6"/>
<rect x="46.40" y="398.16" width="8.30" height="7.84" fill="#F5A25D" stroke="#4a3420" stroke-width="0.6"/>
<rect x="46.40" y="406.00" width="3.60" height="7.84" fill="#5B8DEC" stroke="#1a2a5a" stroke-width="0.6"/>
<text transform="translate(44.90 406.30) scale(1 1.3)" font-size="3.95" text-anchor="end" dominant-baseline="central" fill="#262626" stroke="#262626" stroke-width="0.040" >Odoribacter</text>
<text transform="translate(220.70 406.30) scale(1 1.3)" font-size="3.95" text-anchor="start" dominant-baseline="central" fill="#262626" stroke="#262626" stroke-width="0.040" >0.004</text>
<rect x="46.40" y="417.76" width="0.90" height="7.84" fill="#F5A25D" stroke="#4a3420" stroke-width="0.6"/>
<rect x="46.40" y="425.60" width="1.10" height="7.84" fill="#5B8DEC" stroke="#1a2a5a" stroke-width="0.6"/>
<text transform="translate(44.90 425.90) scale(1 1.3)" font-size="3.95" text-anchor="end" dominant-baseline="central" fill="#262626" stroke="#262626" stroke-width="0.040" >Negativibacillus</text>
<text transform="translate(220.70 425.90) scale(1 1.3)" font-size="3.95" text-anchor="start" dominant-baseline="central" fill="#262626" stroke="#262626" stroke-width="0.040" >0.015</text>
<line x1="194.80" y1="357.00" x2="194.80" y2="437.60" stroke="#5a5a5a" stroke-width="0.7" stroke-dasharray="1.35 1.35"/>
<line x1="132.00" y1="367.10" x2="171.50" y2="367.10" stroke="#555555" stroke-width="0.85" />
<line x1="132.00" y1="365.80" x2="132.00" y2="368.40" stroke="#555555" stroke-width="0.85" />
<line x1="171.50" y1="365.80" x2="171.50" y2="368.40" stroke="#555555" stroke-width="0.85" />
<ellipse cx="151.70" cy="367.10" rx="3.20" ry="3.74" fill="#5B8DEC" stroke="#223060" stroke-width="0.6"/>
<ellipse cx="197.40" cy="386.70" rx="3.20" ry="3.74" fill="#F5A25D" stroke="#6a4020" stroke-width="0.6"/>
<line x1="196.50" y1="386.70" x2="198.30" y2="386.70" stroke="#8a6040" stroke-width="0.55" />
<line x1="196.50" y1="385.66" x2="196.50" y2="387.74" stroke="#8a6040" stroke-width="0.55" />
<line x1="198.30" y1="385.66" x2="198.30" y2="387.74" stroke="#8a6040" stroke-width="0.55" />
<line x1="199.00" y1="406.30" x2="206.00" y2="406.30" stroke="#555555" stroke-width="0.85" />
<line x1="199.00" y1="405.00" x2="199.00" y2="407.60" stroke="#555555" stroke-width="0.85" />
<line x1="206.00" y1="405.00" x2="206.00" y2="407.60" stroke="#555555" stroke-width="0.85" />
<ellipse cx="202.60" cy="406.30" rx="3.20" ry="3.74" fill="#F5A25D" stroke="#6a4020" stroke-width="0.6"/>
<ellipse cx="193.90" cy="425.90" rx="3.20" ry="3.74" fill="#5B8DEC" stroke="#223060" stroke-width="0.6"/>
<line x1="193.00" y1="425.90" x2="194.80" y2="425.90" stroke="#8a6040" stroke-width="0.55" />
<line x1="193.00" y1="424.86" x2="193.00" y2="426.94" stroke="#8a6040" stroke-width="0.55" />
<line x1="194.80" y1="424.86" x2="194.80" y2="426.94" stroke="#8a6040" stroke-width="0.55" />
<line x1="46.40" y1="437.60" x2="100.10" y2="437.60" stroke="#444444" stroke-width="1" />
<line x1="46.40" y1="437.60" x2="46.40" y2="436.10" stroke="#444444" stroke-width="0.8" />
<line x1="100.10" y1="437.60" x2="100.10" y2="436.10" stroke="#444444" stroke-width="0.8" />
<text transform="translate(46.40 442.40) scale(1 1.3)" font-size="3.95" text-anchor="middle" dominant-baseline="central" fill="#262626" stroke="#262626" stroke-width="0.040" >0</text>
<text transform="translate(100.10 442.40) scale(1 1.3)" font-size="3.95" text-anchor="middle" dominant-baseline="central" fill="#262626" stroke="#262626" stroke-width="0.040" >0.06</text>
<line x1="123.20" y1="437.60" x2="218.60" y2="437.60" stroke="#444444" stroke-width="1" />
<line x1="123.20" y1="437.60" x2="123.20" y2="436.10" stroke="#444444" stroke-width="0.8" />
<text transform="translate(123.60 442.40) scale(1 1.3)" font-size="3.95" text-anchor="end" dominant-baseline="central" fill="#262626" stroke="#262626" stroke-width="0.040" >-0.045</text>
<line x1="147.05" y1="437.60" x2="147.05" y2="436.10" stroke="#444444" stroke-width="0.8" />
<text transform="translate(147.45 442.40) scale(1 1.3)" font-size="3.95" text-anchor="end" dominant-baseline="central" fill="#262626" stroke="#262626" stroke-width="0.040" >-0.03</text>
<line x1="170.90" y1="437.60" x2="170.90" y2="436.10" stroke="#444444" stroke-width="0.8" />
<text transform="translate(171.30 442.40) scale(1 1.3)" font-size="3.95" text-anchor="end" dominant-baseline="central" fill="#262626" stroke="#262626" stroke-width="0.040" >-0.015</text>
<line x1="194.75" y1="437.60" x2="194.75" y2="436.10" stroke="#444444" stroke-width="0.8" />
<text transform="translate(195.15 442.40) scale(1 1.3)" font-size="3.95" text-anchor="end" dominant-baseline="central" fill="#262626" stroke="#262626" stroke-width="0.040" >0</text>
<line x1="218.60" y1="437.60" x2="218.60" y2="436.10" stroke="#444444" stroke-width="0.8" />
<text transform="translate(219.00 442.40) scale(1 1.3)" font-size="3.95" text-anchor="end" dominant-baseline="central" fill="#262626" stroke="#262626" stroke-width="0.040" >0.015</text>
<text transform="translate(73.70 448.50) scale(1 1.19)" font-size="5.80" text-anchor="middle" dominant-baseline="central" fill="#2a2a2a" stroke="#2a2a2a" stroke-width="0.040" >Means in groups</text>
<text transform="translate(171.90 448.30) scale(1 1.19)" font-size="5.80" text-anchor="middle" dominant-baseline="central" fill="#2a2a2a" stroke="#2a2a2a" stroke-width="0.040" >Difference between groups</text>
<text transform="translate(171.50 348.20) scale(1 1.3)" font-size="3.95" text-anchor="middle" dominant-baseline="central" fill="#3a3a3a" >95% confidence intervals</text>
<text transform="translate(237.80 396.00) rotate(90) scale(1 1.3)" font-size="3.93" text-anchor="middle" dominant-baseline="central" fill="#262626" stroke="#262626" stroke-width="0.040" >P_value</text>
<rect x="266.00" y="348.80" width="12.80" height="5.70" fill="#F5A25D" stroke="#6b4a2a" stroke-width="0.5"/>
<text transform="translate(281.00 352.25) scale(1 1.45)" font-size="4.70" text-anchor="start" dominant-baseline="central" fill="#262626" stroke="#262626" stroke-width="0.040" >Q8</text>
<rect x="290.30" y="348.80" width="12.80" height="5.70" fill="#5B8DEC" stroke="#2a3a6b" stroke-width="0.5"/>
<text transform="translate(305.30 352.25) scale(1 1.45)" font-size="4.70" text-anchor="start" dominant-baseline="central" fill="#262626" stroke="#262626" stroke-width="0.040" >Q12</text>
<rect x="310.50" y="365.50" width="65.00" height="28.40" fill="#E6E6E6"/>
<rect x="403.10" y="365.50" width="115.20" height="28.40" fill="#E6E6E6"/>
<rect x="310.50" y="368.34" width="9.20" height="11.36" fill="#F5A25D" stroke="#4a3420" stroke-width="0.8"/>
<rect x="310.50" y="379.70" width="26.10" height="11.36" fill="#5B8DEC" stroke="#1a2a5a" stroke-width="0.8"/>
<text transform="translate(309.00 380.70) scale(1 1.45)" font-size="4.70" text-anchor="end" dominant-baseline="central" fill="#262626" stroke="#262626" stroke-width="0.040" >Enorma</text>
<text transform="translate(520.80 380.70) scale(1 1.45)" font-size="4.70" text-anchor="start" dominant-baseline="central" fill="#262626" stroke="#262626" stroke-width="0.040" >0.019</text>
<rect x="310.50" y="396.74" width="37.10" height="11.36" fill="#F5A25D" stroke="#4a3420" stroke-width="0.8"/>
<rect x="310.50" y="408.10" width="60.20" height="11.36" fill="#5B8DEC" stroke="#1a2a5a" stroke-width="0.8"/>
<text transform="translate(309.00 409.10) scale(1 1.45)" font-size="4.70" text-anchor="end" dominant-baseline="central" fill="#262626" stroke="#262626" stroke-width="0.040" >Eisenbergiella</text>
<text transform="translate(520.80 409.10) scale(1 1.45)" font-size="4.70" text-anchor="start" dominant-baseline="central" fill="#262626" stroke="#262626" stroke-width="0.040" >0.042</text>
<line x1="518.30" y1="365.50" x2="518.30" y2="426.80" stroke="#5a5a5a" stroke-width="0.7" stroke-dasharray="1.5 1.5"/>
<line x1="465.60" y1="379.70" x2="511.30" y2="379.70" stroke="#555555" stroke-width="1.0" />
<line x1="465.60" y1="377.50" x2="465.60" y2="381.90" stroke="#555555" stroke-width="1.0" />
<line x1="511.30" y1="377.50" x2="511.30" y2="381.90" stroke="#555555" stroke-width="1.0" />
<ellipse cx="488.90" cy="379.70" rx="4.25" ry="5.01" fill="#5B8DEC" stroke="#223060" stroke-width="0.6"/>
<line x1="438.00" y1="408.10" x2="516.50" y2="408.10" stroke="#555555" stroke-width="1.0" />
<line x1="438.00" y1="405.90" x2="438.00" y2="410.30" stroke="#555555" stroke-width="1.0" />
<line x1="516.50" y1="405.90" x2="516.50" y2="410.30" stroke="#555555" stroke-width="1.0" />
<ellipse cx="477.30" cy="408.10" rx="4.25" ry="5.01" fill="#5B8DEC" stroke="#223060" stroke-width="0.6"/>
<line x1="310.50" y1="426.80" x2="375.50" y2="426.80" stroke="#444444" stroke-width="1" />
<line x1="310.50" y1="426.80" x2="310.50" y2="425.00" stroke="#444444" stroke-width="0.8" />
<line x1="375.50" y1="426.80" x2="375.50" y2="425.00" stroke="#444444" stroke-width="0.8" />
<text transform="translate(310.50 433.30) scale(1 1.45)" font-size="4.70" text-anchor="middle" dominant-baseline="central" fill="#262626" stroke="#262626" stroke-width="0.040" >0</text>
<text transform="translate(375.50 433.30) scale(1 1.45)" font-size="4.70" text-anchor="middle" dominant-baseline="central" fill="#262626" stroke="#262626" stroke-width="0.040" >0.003</text>
<line x1="403.10" y1="426.80" x2="518.30" y2="426.80" stroke="#444444" stroke-width="1" />
<line x1="403.10" y1="426.80" x2="403.10" y2="425.00" stroke="#444444" stroke-width="0.8" />
<text transform="translate(403.50 433.30) scale(1 1.45)" font-size="4.70" text-anchor="end" dominant-baseline="central" fill="#262626" stroke="#262626" stroke-width="0.040" >-0.003</text>
<line x1="441.40" y1="426.80" x2="441.40" y2="425.00" stroke="#444444" stroke-width="0.8" />
<text transform="translate(441.80 433.30) scale(1 1.45)" font-size="4.70" text-anchor="end" dominant-baseline="central" fill="#262626" stroke="#262626" stroke-width="0.040" >-0.002</text>
<line x1="479.70" y1="426.80" x2="479.70" y2="425.00" stroke="#444444" stroke-width="0.8" />
<text transform="translate(480.10 433.30) scale(1 1.45)" font-size="4.70" text-anchor="end" dominant-baseline="central" fill="#262626" stroke="#262626" stroke-width="0.040" >-0.001</text>
<line x1="518.00" y1="426.80" x2="518.00" y2="425.00" stroke="#444444" stroke-width="0.8" />
<text transform="translate(518.40 433.30) scale(1 1.45)" font-size="4.70" text-anchor="end" dominant-baseline="central" fill="#262626" stroke="#262626" stroke-width="0.040" >0</text>
<text transform="translate(343.00 442.00) scale(1 1.32)" font-size="7.00" text-anchor="middle" dominant-baseline="central" fill="#2a2a2a" stroke="#2a2a2a" stroke-width="0.040" >Means in groups</text>
<text transform="translate(461.00 442.10) scale(1 1.32)" font-size="7.00" text-anchor="middle" dominant-baseline="central" fill="#2a2a2a" stroke="#2a2a2a" stroke-width="0.040" >Difference between groups</text>
<text transform="translate(461.30 352.60) scale(1 1.45)" font-size="4.70" text-anchor="middle" dominant-baseline="central" fill="#3a3a3a" >95% confidence intervals</text>
<text transform="translate(542.00 393.90) rotate(90) scale(1 1.45)" font-size="5.50" text-anchor="middle" dominant-baseline="central" fill="#262626" stroke="#262626" stroke-width="0.040" >P_value</text>
</svg></body></html>
